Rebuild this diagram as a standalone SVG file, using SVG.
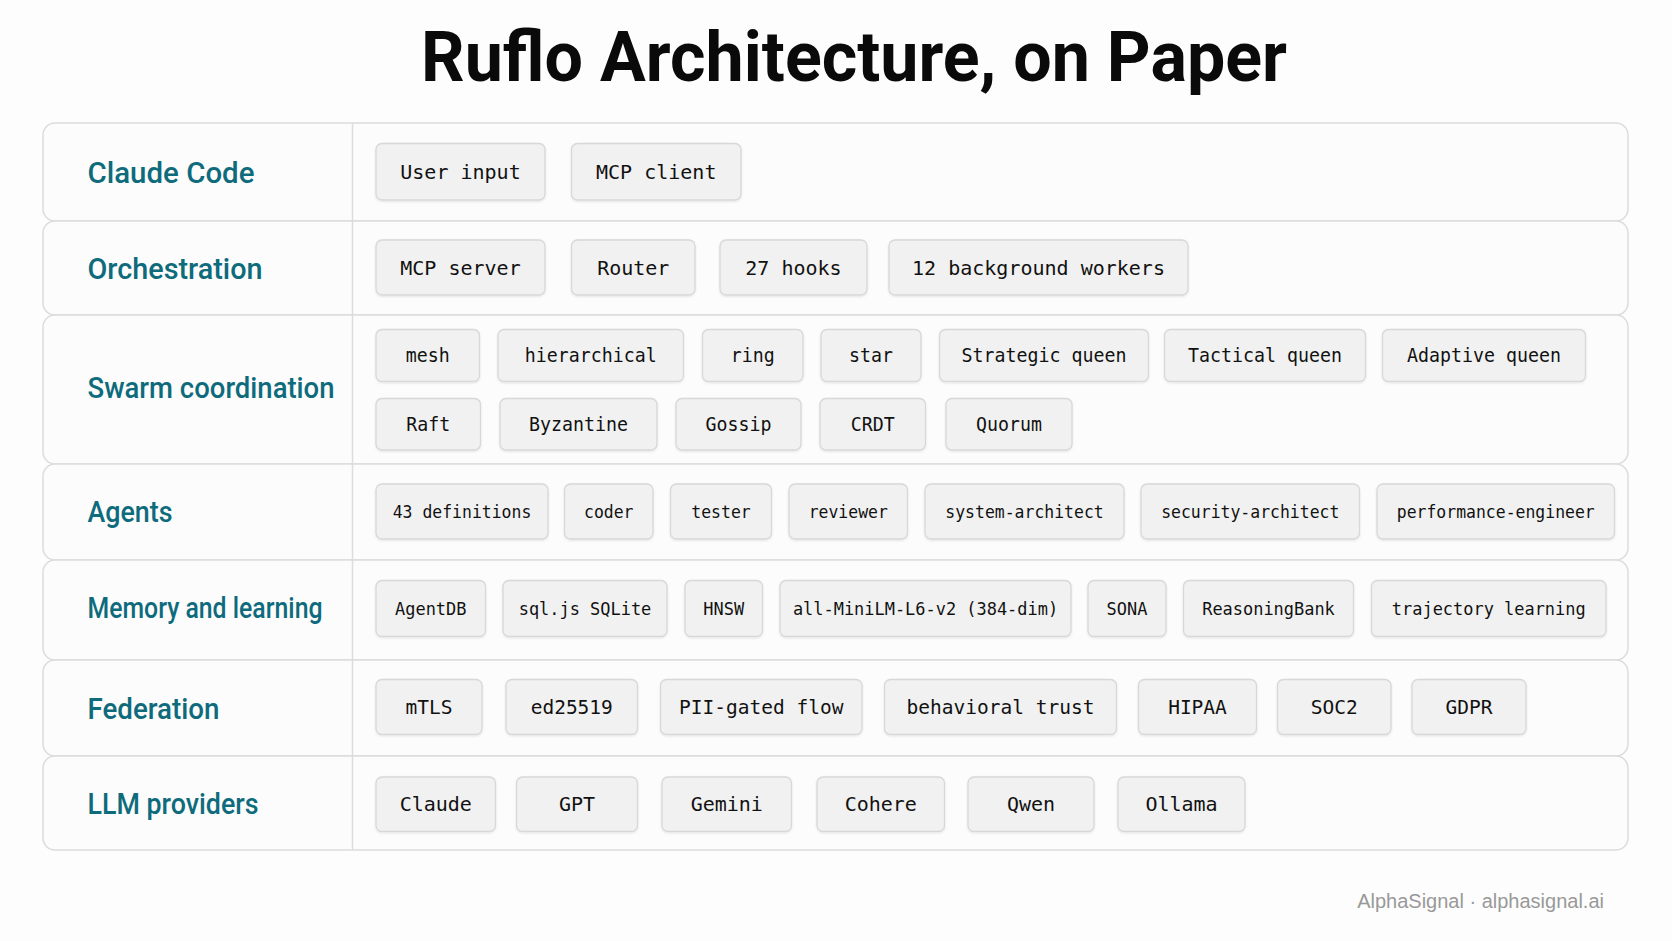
<svg xmlns="http://www.w3.org/2000/svg" width="1672" height="941" viewBox="0 0 1672 941">
<defs>
<filter id="sh" x="-10%" y="-10%" width="120%" height="130%">
<feDropShadow dx="0" dy="1" stdDeviation="0.8" flood-color="#000" flood-opacity="0.10"/>
</filter>
<style>
.bg{fill:#fdfdfd}
.row{fill:#fcfcfc;stroke:#dcdcdc;stroke-width:1.5}
.div{stroke:#dcdcdc;stroke-width:1.5}
.title{font-family:Roboto,"Liberation Sans",sans-serif;font-weight:700;font-size:70px;fill:#0a0a0a}
.lbl{font-family:Roboto,"Liberation Sans",sans-serif;font-weight:500;font-size:29px;fill:#0e6b7c;dominant-baseline:central}
.chip rect{fill:#f1f1f1;stroke:#d8d8d8;stroke-width:1.3;filter:url(#sh)}
.chip text{font-family:"DejaVu Sans Mono","Liberation Mono",monospace;fill:#111;text-anchor:middle;dominant-baseline:central}
.f20 text{font-size:20px}
.f18 text{font-size:19.5px}
.f165 text{font-size:18.5px}
.f17 text{font-size:18.5px}
.f195 text{font-size:19.5px}
.foot{font-family:"Liberation Sans",Arial,sans-serif;font-size:20px;fill:#999}
</style>
</defs>
<rect class="bg" x="0" y="0" width="1672" height="941"/>
<text class="title" x="854" y="81" text-anchor="middle" textLength="866" lengthAdjust="spacingAndGlyphs">Ruflo Architecture, on Paper</text>

<g id="rows">
<rect class="row" x="43" y="123" width="1585" height="98" rx="12"/>
<rect class="row" x="43" y="221" width="1585" height="94" rx="12"/>
<rect class="row" x="43" y="315" width="1585" height="149" rx="12"/>
<rect class="row" x="43" y="464" width="1585" height="96" rx="12"/>
<rect class="row" x="43" y="560" width="1585" height="100" rx="12"/>
<rect class="row" x="43" y="660" width="1585" height="96" rx="12"/>
<rect class="row" x="43" y="756" width="1585" height="94" rx="12"/>
<line class="div" x1="352.5" y1="123" x2="352.5" y2="850"/>
</g>

<g id="connectors"></g>

<g id="labels">
<text class="lbl" x="87.5" y="173" textLength="167" lengthAdjust="spacingAndGlyphs">Claude Code</text>
<text class="lbl" x="87.5" y="269" textLength="175" lengthAdjust="spacingAndGlyphs">Orchestration</text>
<text class="lbl" x="87.5" y="388" textLength="247" lengthAdjust="spacingAndGlyphs">Swarm coordination</text>
<text class="lbl" x="87.5" y="512" textLength="85" lengthAdjust="spacingAndGlyphs">Agents</text>
<text class="lbl" x="87.5" y="608" textLength="235" lengthAdjust="spacingAndGlyphs">Memory and learning</text>
<text class="lbl" x="87.5" y="709" textLength="132" lengthAdjust="spacingAndGlyphs">Federation</text>
<text class="lbl" x="87.5" y="804" textLength="171" lengthAdjust="spacingAndGlyphs">LLM providers</text>
</g>

<g id="row-claude-code" class="chip f20">
<g id="n-user-input"><rect x="376" y="143.5" width="169" height="56.5" rx="6"/><text x="460.5" y="171.75">User input</text></g>
<g id="n-mcp-client"><rect x="571.5" y="143.5" width="169.5" height="56.5" rx="6"/><text x="656.25" y="171.75">MCP client</text></g>
</g>

<g id="row-orchestration" class="chip f20">
<g id="n-mcp-server"><rect x="376" y="240" width="169" height="55" rx="6"/><text x="460.5" y="267.5">MCP server</text></g>
<g id="n-router"><rect x="571.5" y="240" width="123.5" height="55" rx="6"/><text x="633.25" y="267.5">Router</text></g>
<g id="n-hooks"><rect x="720" y="240" width="147" height="55" rx="6"/><text x="793.5" y="267.5">27 hooks</text></g>
<g id="n-workers"><rect x="889" y="240" width="299" height="55" rx="6"/><text x="1038.5" y="267.5">12 background workers</text></g>
</g>

<g id="row-swarm" class="chip f18">
<g id="n-mesh"><rect x="376" y="329.5" width="103.5" height="52" rx="6"/><text x="427.75" y="355.5" textLength="44" lengthAdjust="spacingAndGlyphs">mesh</text></g>
<g id="n-hierarchical"><rect x="498" y="329.5" width="185.5" height="52" rx="6"/><text x="590.75" y="355.5" textLength="132" lengthAdjust="spacingAndGlyphs">hierarchical</text></g>
<g id="n-ring"><rect x="702.5" y="329.5" width="100.5" height="52" rx="6"/><text x="752.75" y="355.5" textLength="44" lengthAdjust="spacingAndGlyphs">ring</text></g>
<g id="n-star"><rect x="821" y="329.5" width="100" height="52" rx="6"/><text x="871" y="355.5" textLength="44" lengthAdjust="spacingAndGlyphs">star</text></g>
<g id="n-strategic"><rect x="939.5" y="329.5" width="209" height="52" rx="6"/><text x="1044" y="355.5" textLength="165" lengthAdjust="spacingAndGlyphs">Strategic queen</text></g>
<g id="n-tactical"><rect x="1164.5" y="329.5" width="201" height="52" rx="6"/><text x="1265" y="355.5" textLength="154" lengthAdjust="spacingAndGlyphs">Tactical queen</text></g>
<g id="n-adaptive"><rect x="1382.5" y="329.5" width="203" height="52" rx="6"/><text x="1484" y="355.5" textLength="154" lengthAdjust="spacingAndGlyphs">Adaptive queen</text></g>
<g id="n-raft"><rect x="376" y="398.5" width="104.5" height="51.5" rx="6"/><text x="428.25" y="424.25" textLength="44" lengthAdjust="spacingAndGlyphs">Raft</text></g>
<g id="n-byzantine"><rect x="500" y="398.5" width="157" height="51.5" rx="6"/><text x="578.5" y="424.25" textLength="99" lengthAdjust="spacingAndGlyphs">Byzantine</text></g>
<g id="n-gossip"><rect x="676" y="398.5" width="125" height="51.5" rx="6"/><text x="738.5" y="424.25" textLength="66" lengthAdjust="spacingAndGlyphs">Gossip</text></g>
<g id="n-crdt"><rect x="820" y="398.5" width="105.5" height="51.5" rx="6"/><text x="872.75" y="424.25" textLength="44" lengthAdjust="spacingAndGlyphs">CRDT</text></g>
<g id="n-quorum"><rect x="946" y="398.5" width="126" height="51.5" rx="6"/><text x="1009" y="424.25" textLength="66" lengthAdjust="spacingAndGlyphs">Quorum</text></g>
</g>

<g id="row-agents" class="chip f165">
<g id="n-defs"><rect x="376" y="484" width="172" height="55" rx="6"/><text x="462" y="511.5" textLength="138.6" lengthAdjust="spacingAndGlyphs">43 definitions</text></g>
<g id="n-coder"><rect x="564.5" y="484" width="88.5" height="55" rx="6"/><text x="608.75" y="511.5" textLength="49.5" lengthAdjust="spacingAndGlyphs">coder</text></g>
<g id="n-tester"><rect x="670.5" y="484" width="101" height="55" rx="6"/><text x="721" y="511.5" textLength="59.4" lengthAdjust="spacingAndGlyphs">tester</text></g>
<g id="n-reviewer"><rect x="789" y="484" width="118.5" height="55" rx="6"/><text x="848.25" y="511.5" textLength="79.2" lengthAdjust="spacingAndGlyphs">reviewer</text></g>
<g id="n-sysarch"><rect x="925" y="484" width="199" height="55" rx="6"/><text x="1024.5" y="511.5" textLength="158.4" lengthAdjust="spacingAndGlyphs">system-architect</text></g>
<g id="n-secarch"><rect x="1141" y="484" width="218.5" height="55" rx="6"/><text x="1250.25" y="511.5" textLength="178.2" lengthAdjust="spacingAndGlyphs">security-architect</text></g>
<g id="n-perf"><rect x="1377" y="484" width="237.5" height="55" rx="6"/><text x="1495.75" y="511.5" textLength="198" lengthAdjust="spacingAndGlyphs">performance-engineer</text></g>
</g>

<g id="row-memory" class="chip f17">
<g id="n-agentdb"><rect x="376" y="580.5" width="109.5" height="56" rx="6"/><text x="430.75" y="608.5" textLength="71.4" lengthAdjust="spacingAndGlyphs">AgentDB</text></g>
<g id="n-sqljs"><rect x="503" y="580.5" width="164" height="56" rx="6"/><text x="585" y="608.5" textLength="132.6" lengthAdjust="spacingAndGlyphs">sql.js SQLite</text></g>
<g id="n-hnsw"><rect x="685" y="580.5" width="77.5" height="56" rx="6"/><text x="723.75" y="608.5" textLength="40.8" lengthAdjust="spacingAndGlyphs">HNSW</text></g>
<g id="n-minilm"><rect x="780" y="580.5" width="291" height="56" rx="6"/><text x="925.5" y="608.5" textLength="265.2" lengthAdjust="spacingAndGlyphs">all-MiniLM-L6-v2 (384-dim)</text></g>
<g id="n-sona"><rect x="1088" y="580.5" width="78" height="56" rx="6"/><text x="1127" y="608.5" textLength="40.8" lengthAdjust="spacingAndGlyphs">SONA</text></g>
<g id="n-rbank"><rect x="1183.5" y="580.5" width="170" height="56" rx="6"/><text x="1268.5" y="608.5" textLength="132.6" lengthAdjust="spacingAndGlyphs">ReasoningBank</text></g>
<g id="n-traj"><rect x="1371.5" y="580.5" width="234.5" height="56" rx="6"/><text x="1488.75" y="608.5" textLength="193.8" lengthAdjust="spacingAndGlyphs">trajectory learning</text></g>
</g>

<g id="row-federation" class="chip f195">
<g id="n-mtls"><rect x="376" y="679.5" width="106" height="55" rx="6"/><text x="429" y="707">mTLS</text></g>
<g id="n-ed25519"><rect x="506" y="679.5" width="131.5" height="55" rx="6"/><text x="571.75" y="707">ed25519</text></g>
<g id="n-pii"><rect x="660.5" y="679.5" width="201.5" height="55" rx="6"/><text x="761.25" y="707">PII-gated flow</text></g>
<g id="n-trust"><rect x="884.5" y="679.5" width="232" height="55" rx="6"/><text x="1000.5" y="707">behavioral trust</text></g>
<g id="n-hipaa"><rect x="1138.5" y="679.5" width="118" height="55" rx="6"/><text x="1197.5" y="707">HIPAA</text></g>
<g id="n-soc2"><rect x="1277.5" y="679.5" width="113.5" height="55" rx="6"/><text x="1334.25" y="707">SOC2</text></g>
<g id="n-gdpr"><rect x="1412" y="679.5" width="114" height="55" rx="6"/><text x="1469" y="707">GDPR</text></g>
</g>

<g id="row-llm" class="chip f20">
<g id="n-claude"><rect x="376" y="777" width="119.5" height="54.5" rx="6"/><text x="435.75" y="804.25">Claude</text></g>
<g id="n-gpt"><rect x="516.5" y="777" width="121" height="54.5" rx="6"/><text x="577" y="804.25">GPT</text></g>
<g id="n-gemini"><rect x="662" y="777" width="129.5" height="54.5" rx="6"/><text x="726.75" y="804.25">Gemini</text></g>
<g id="n-cohere"><rect x="817" y="777" width="127.5" height="54.5" rx="6"/><text x="880.75" y="804.25">Cohere</text></g>
<g id="n-qwen"><rect x="968" y="777" width="126" height="54.5" rx="6"/><text x="1031" y="804.25">Qwen</text></g>
<g id="n-ollama"><rect x="1118" y="777" width="127" height="54.5" rx="6"/><text x="1181.5" y="804.25">Ollama</text></g>
</g>

<text class="foot" x="1604" y="908" text-anchor="end">AlphaSignal · alphasignal.ai</text>
</svg>
